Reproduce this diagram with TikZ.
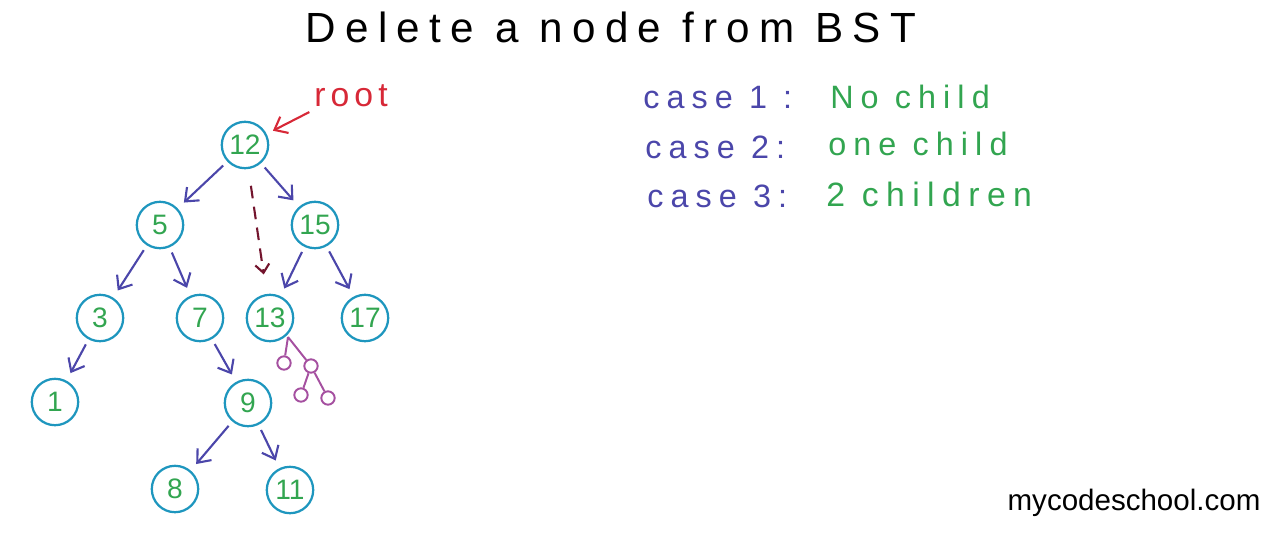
\documentclass[tikz,border=0pt]{standalone}
\usepackage{xcolor}
\usepackage{fontspec}
\setmainfont{Liberation Sans}
\newfontfamily\handfont[LetterSpace=15]{Liberation Sans}
\newfontfamily\widefont[LetterSpace=22]{Liberation Sans}
\usepackage{tikz}
\usetikzlibrary{arrows.meta}

\definecolor{ringcol}{RGB}{30,150,190}
\definecolor{numcol}{RGB}{50,165,80}
\definecolor{edgecol}{RGB}{75,70,170}
\definecolor{rootcol}{RGB}{215,40,55}
\definecolor{dashcol}{RGB}{115,20,45}
\definecolor{subcol}{RGB}{165,80,160}

\tikzset{
  bst/.style={circle, draw=ringcol, line width=1.6pt, minimum size=33pt,
    inner sep=0pt, text=numcol, font=\fontsize{20}{20}\selectfont},
  link/.style={draw=edgecol, line width=1.5pt,
    -{Straight Barb[length=8pt,width=13pt]}, shorten >=6pt, shorten <=4pt},
  mini/.style={circle, draw=subcol, line width=1.4pt, minimum size=9.5pt, inner sep=0pt},
  casetxt/.style={anchor=west, inner sep=0pt, font=\widefont\fontsize{23}{23}\selectfont},
}

\begin{document}
\begin{tikzpicture}[x=0.025cm, y=-0.025cm]
    \useasboundingbox (0,0) rectangle (1280,540);
    % title
    \node (title) at (611,27) {\widefont\fontsize{30}{30}\selectfont Delete a node from BST};
    % the tree
    \node[bst] (n12) at (245,145) {12};
    \node[bst] (n5) at (160,225) {5};
    \node[bst] (n15) at (315,225) {15};
    \node[bst] (n3) at (100,318) {3};
    \node[bst] (n7) at (200,318) {7};
    \node[bst] (n13) at (270,318) {13};
    \node[bst] (n17) at (365,318) {17};
    \node[bst] (n1) at (55,402) {1};
    \node[bst] (n9) at (248,403) {9};
    \node[bst] (n8) at (175,489) {8};
    \node[bst] (n11) at (290,490) {11};
    \draw[link] (n12) -- (n5);
    \draw[link] (n12) -- (n15);
    \draw[link] (n5) -- (n3);
    \draw[link] (n5) -- (n7);
    \draw[link] (n15) -- (n13);
    \draw[link] (n15) -- (n17);
    \draw[link] (n3) -- (n1);
    \draw[link] (n7) -- (n9);
    \draw[link] (n9) -- (n8);
    \draw[link] (n9) -- (n11);
    % root pointer
    \node[text=rootcol] (rootlbl) at (351,96) {\handfont\fontsize{24}{24}\selectfont root};
    \draw[rootcol, line width=1.5pt, -{Straight Barb[length=8pt,width=13pt]}, shorten >=5pt]
      (rootlbl.south west) -- (n12);
    \draw[dashcol, dash pattern=on 9pt off 6pt, line width=1.5pt,
      -{Straight Barb[length=6pt,width=10pt]}, shorten <=12pt, shorten >=14pt] (n12) -- (n13);
    % little subtree below 13
    \coordinate (top) at (288,337);
    \node[mini] (sa) at (284,363) {};
    \node[mini] (sb) at (311,366) {};
    \node[mini] (sc) at (301,395) {};
    \node[mini] (sd) at (328,398) {};
    \draw[subcol, line width=1.4pt] (top) -- (sa) (top) -- (sb) (sb) -- (sc) (sb) -- (sd);
    % the three cases
    \node[casetxt, text=edgecol] (c1) at (643,98) {case 1 :};
    \node[casetxt, text=edgecol] (c2) at (645,147) {case 2:};
    \node[casetxt, text=edgecol] (c3) at (647,196) {case 3:};
    \node[casetxt, text=numcol] (d1) at (830,97) {No child};
    \node[casetxt, text=numcol] (d2) at (828,144) {one child};
    \node[casetxt, text=numcol, font=\widefont\fontsize{24}{24}\selectfont] (d3) at (826,194) {2 children};
    % site name
    \node (site) at (1134,503) {\fontsize{21}{21}\selectfont mycodeschool.com};
\end{tikzpicture}
\end{document}
